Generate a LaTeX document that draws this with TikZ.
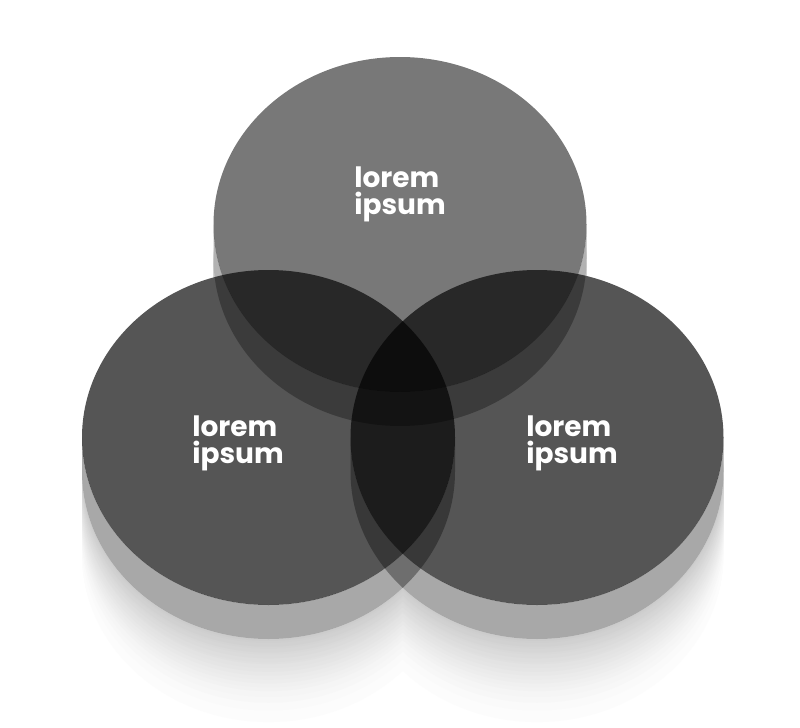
\documentclass[tikz,border=0pt]{standalone}
\usepackage{fontspec}
\setmainfont{Poppins}[BoldFont={* Bold}]
\usetikzlibrary{calc}
\begin{document}
\begin{tikzpicture}[x=0.75pt,y=-0.75pt,
  face/.style={fill=black,fill opacity=#1},
  side/.style={fill=black,fill opacity=#1},
  lbl/.style={text=white,font={\bfseries\fontsize{21}{20}\selectfont},align=left,inner sep=0pt,anchor=north west}]
\useasboundingbox (0,0) rectangle (800,728);
\def\rx{186.5}\def\ry{167.5}\def\th{34}
% disc centres
\coordinate (T) at (400,224.5);
\coordinate (L) at (268.5,437.5);
\coordinate (R) at (537,437.5);
% shadow
\foreach \k in {44,43,...,1}{
  \pgfmathsetmacro\s{\th+85*\k/44}
  \pgfmathtruncatemacro\p{100-20*(1-\k/44)^1.6}
  \foreach \c in {T,L,R}{
    \fill[white!\p!black] ($(\c)+(0,\s)$) ellipse[x radius=\rx,y radius=\ry];
  }
}
% white cover of cylinders
\foreach \c in {T,L,R}{
  \fill[white] ($(\c)+(\rx,0)$) arc[start angle=0,end angle=-180,x radius=\rx,y radius=\ry]
     -- ++(0,\th) arc[start angle=180,end angle=0,x radius=\rx,y radius=\ry] -- cycle;
}
% sides
\foreach \c/\o in {T/0.3,L/0.34,R/0.34}{
  \fill[side=\o] ($(\c)+(-\rx,0)$) arc[start angle=180,end angle=0,x radius=\rx,y radius=\ry]
     -- ++(0,\th) arc[start angle=0,end angle=180,x radius=\rx,y radius=\ry] -- cycle;
}
% faces
\fill[face=0.53] (T) ellipse[x radius=\rx,y radius=\ry];
\fill[face=0.667] (L) ellipse[x radius=\rx,y radius=\ry];
\fill[face=0.667] (R) ellipse[x radius=\rx,y radius=\ry];
% labels
\node[lbl] (tt) at (354,167) {lorem\\ipsum};
\node[lbl] (tl) at (192,416) {lorem\\ipsum};
\node[lbl] (tr) at (526,416) {lorem\\ipsum};
\end{tikzpicture}
\end{document}
